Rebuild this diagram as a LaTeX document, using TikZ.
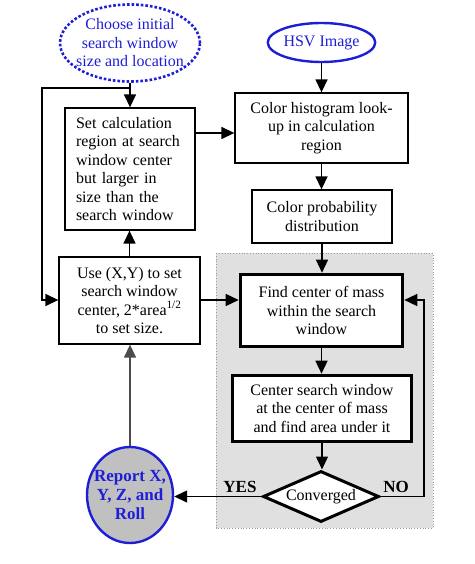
\documentclass[tikz,border=0pt]{standalone}
\usepackage{fontspec}
\setmainfont{Liberation Serif}
\usetikzlibrary{arrows.meta,shapes.geometric}
\definecolor{dblue}{RGB}{30,30,215}
\definecolor{regiongray}{RGB}{224,224,224}
\definecolor{reportgray}{RGB}{192,192,192}
\begin{document}
\begin{tikzpicture}[x=1pt,y=-1pt,
  txt/.style={font=\fontsize{16}{18.5}\selectfont, align=center, inner sep=0pt},
  boldtxt/.style={txt, font=\fontsize{17}{19}\selectfont\bfseries},
  box/.style={txt, draw, line width=1.3pt, fill=white, inner sep=0pt},
  thickbox/.style={box, line width=3.6pt},
  arr/.style={line width=1.4pt, -{Triangle[length=13pt,width=12pt]}}
]
\useasboundingbox (0,0) rectangle (474,564);
% textured region
\fill[regiongray] (216,253) rectangle (433,528);
\draw[gray!80, line width=0.8pt, dotted] (216,253) rectangle (433,528);

% nodes
\node[draw=dblue, line width=2.6pt, dotted, ellipse, minimum width=140pt, minimum height=77pt, inner sep=0pt] (choose) at (130,43) {};
\node[txt, text=dblue] (chooset) at (choose.center) {Choose initial\\search window\\size and location};

\node[draw=dblue, line width=2.4pt, ellipse, minimum width=93pt, minimum height=39pt, inner sep=0pt, txt, text=dblue] (hsv) at (321.5,42.5) {HSV Image};

\node[box, minimum width=130pt, minimum height=122pt, text width=108pt, align=left] (setbox) at (130,169) {Set calculation\\region at search\\window center\\but larger in\\size than the\\search window};

\node[box, minimum width=173pt, minimum height=70pt] (hist) at (321.5,128) {Color histogram look-\\up in calculation\\region};

\node[box, minimum width=140pt, minimum height=53pt] (prob) at (322,216.5) {Color probability\\distribution};

\node[box, minimum width=141pt, minimum height=87pt] (usebox) at (129.5,300.5) {Use (X,Y) to set\\search window\\center, 2*area\textsuperscript{1/2}\\to set size.};

\node[thickbox, minimum width=162pt, minimum height=72pt] (find) at (321.5,310.5) {Find center of mass\\within the search\\window};

\node[thickbox, minimum width=179pt, minimum height=66pt] (center) at (322,408.5) {Center search window\\at the center of mass\\and find area under it};

\node[txt, draw, diamond, fill=white, line width=3pt, shape aspect=2.2, minimum width=116pt, minimum height=51pt] (conv) at (321,496.5) {Converged};

\node[ellipse, draw=dblue, line width=2.4pt, fill=reportgray, minimum width=86pt, minimum height=96pt, inner sep=0pt] (report) at (130,495) {};
\node[boldtxt, text=dblue] (reportt) at (report.center) {Report X,\\Y, Z, and\\Roll};

\node[boldtxt] (yes) at (240,487) {YES};
\node[boldtxt] (no) at (396,487) {NO};

% connectors
\coordinate (j1) at (130,88);
\coordinate (lft) at (42,300);
\coordinate (rgt) at (424,300);
\draw[arr] (choose.south) -- (setbox.north);
\draw[arr] (j1) -| (lft) -- (usebox.west |- lft);
\draw[arr] (usebox.north) -- (usebox.north |- setbox.south);
\draw[arr] (setbox.east |- 0,133) -- (hist.west |- 0,133);
\draw[arr] (hsv.south) -- (hist.north -| hsv.south);
\draw[arr] (hist.south) -- (prob.north -| hist.south);
\draw[arr] (prob.south) -- (find.north -| prob.south);
\draw[arr] (usebox.east |- lft) -- (find.west |- lft);
\draw[arr] (find.south) -- (center.north -| find.south);
\draw[arr] (center.south) -- (conv.north -| center.south);
\draw[arr] (conv.east) -| (rgt) -- (find.east |- rgt);
\draw[arr] (conv.west) -- (conv.west -| report.east);
\draw[arr, draw=gray!60!black] (report.north) -- (report.north |- usebox.south);
\end{tikzpicture}
\end{document}
